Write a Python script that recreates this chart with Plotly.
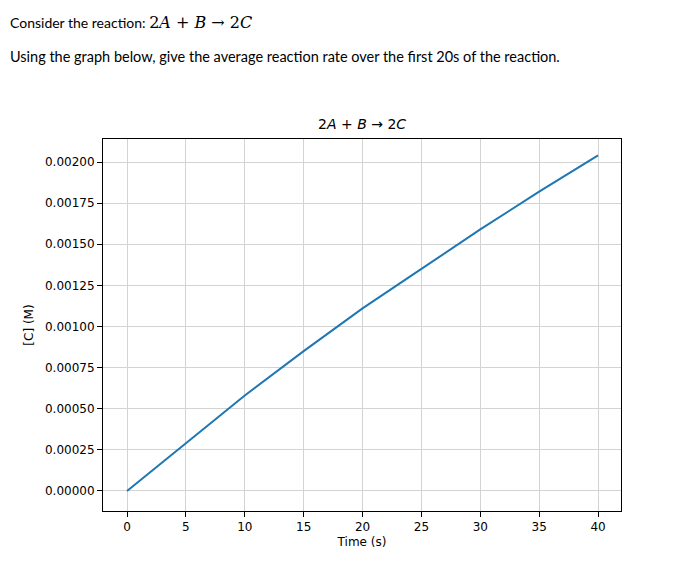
import plotly.graph_objects as go

time_s = [0, 5, 10, 15, 20, 25, 30, 35, 40]
conc_C = [0.0, 0.00029, 0.00058, 0.00085, 0.00111, 0.00135, 0.00159, 0.00182, 0.00204]
x_ticks = [0, 5, 10, 15, 20, 25, 30, 35, 40]
y_ticks = [0.0, 0.00025, 0.0005, 0.00075, 0.001, 0.00125, 0.0015, 0.00175, 0.002]

L, R, T, B, W, H = 95, 74, 131, 62, 687, 565
fig = go.Figure(go.Scatter(x=time_s, y=conc_C, mode="lines",
                           line=dict(color="#1f77b4", width=2)))
axis_common = dict(showline=True, linecolor="black", linewidth=1, mirror=True,
                   ticks="outside", ticklen=5, tickcolor="black",
                   showgrid=True, gridcolor="#d3d3d3", gridwidth=1, zeroline=False,
                   tickfont=dict(family="DejaVu Sans", size=12, color="black"))
fig.update_xaxes(range=[-2.04, 41.95], tickvals=x_ticks, **axis_common,
                 title=dict(text="Time (s)", font=dict(family="DejaVu Sans", size=12, color="black"), standoff=4))
fig.update_yaxes(range=[-0.000122, 0.00214], tickvals=y_ticks, tickformat=".5f", **axis_common,
                 title=dict(text="[C] (M)", font=dict(family="DejaVu Sans", size=12, color="black"), standoff=8))
pw, ph = W - L - R, H - T - B
def px(x, y):
    return (x - L) / pw, (H - y - B) / ph
x1, y1 = px(0, 14)
x2, y2 = px(0, 49)
fig.update_layout(
    width=W, height=H, plot_bgcolor="white", paper_bgcolor="white",
    margin=dict(l=L, r=R, t=T, b=B), showlegend=False,
    annotations=[
        dict(text="2<i>A</i> + <i>B</i> → 2<i>C</i>", x=0.5, y=1.0, xref="paper", yref="paper", yanchor="bottom", yshift=5,
             showarrow=False, font=dict(family="DejaVu Sans", size=14, color="black")),
        dict(text="Consider the reaction: <span style='font-family:DejaVu Serif;font-size:16px'>2<i>A</i> + <i>B</i> → 2<i>C</i></span>",
             x=x1, y=y1, xref="paper", yref="paper", showarrow=False, xanchor="left", yanchor="middle",
             font=dict(family="Lato", size=14, color="black")),
        dict(text="Using the graph below, give the average reaction rate over the first 20s of the reaction.",
             x=x2, y=y2, xref="paper", yref="paper", showarrow=False, xanchor="left", yanchor="middle",
             font=dict(family="Lato", size=14.5, color="black")),
    ],
)
fig.write_html("out.html")
